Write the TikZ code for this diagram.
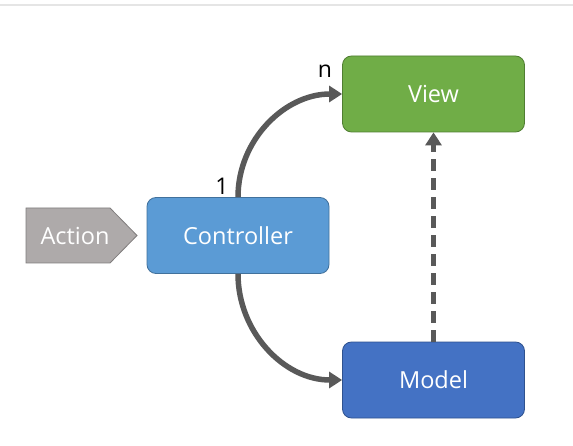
\documentclass[tikz,border=0pt]{standalone}
\usepackage{fontspec}
\setmainfont{Open Sans}
\usetikzlibrary{arrows.meta}
\definecolor{viewg}{HTML}{70AD47}
\definecolor{viewb}{HTML}{507E32}
\definecolor{modelb}{HTML}{4472C4}
\definecolor{modelbd}{HTML}{2F528F}
\definecolor{ctrlb}{HTML}{5B9BD5}
\definecolor{ctrlbd}{HTML}{41719C}
\definecolor{actg}{HTML}{AEAAAA}
\definecolor{actgd}{HTML}{807D7D}
\definecolor{arr}{HTML}{595959}
\tikzset{
  box/.style={rounded corners=9pt, minimum width=182pt, minimum height=76pt, text=white, font=\fontsize{23.5}{26}\selectfont, line width=0.8pt, inner sep=0pt},
  conn/.style={draw=arr, line width=5.5pt, -{Triangle[length=13pt,width=16pt]}},
  lbl/.style={font=\fontsize{23}{24}\selectfont},
}
\begin{document}
\begin{tikzpicture}[x=1pt,y=1pt]
\useasboundingbox (0,0) rectangle (573,445);
\fill[white] (0,0) rectangle (573,445);
\draw[color=black!10, line width=1.5pt] (0,440) -- (573,440);
\node[box, fill=viewg, draw=viewb] (view) at (433.5,351) {View};
\node[box, fill=modelb, draw=modelbd] (model) at (433.5,65) {Model};
\node[box, fill=ctrlb, draw=ctrlbd] (ctrl) at (238,209.5) {Controller};
\draw[fill=actg, draw=actgd, line width=0.8pt] (26,237) -- (110,237) -- (137,209.5) -- (110,182) -- (26,182) -- cycle;
\node[text=white, font=\fontsize{23.5}{26}\selectfont] (action) at (75,209.5) {Action};
\draw[conn] (ctrl.north) to[out=90,in=180] (view.west);
\draw[conn] (ctrl.south) to[out=-90,in=180] (model.west);
\draw[conn, dash pattern=on 12pt off 7pt] (model.north) -- (view.south);
\node[lbl] (one) at (222,259) {1};
\node[lbl] (nn) at (325,374) {n};
\end{tikzpicture}
\end{document}
